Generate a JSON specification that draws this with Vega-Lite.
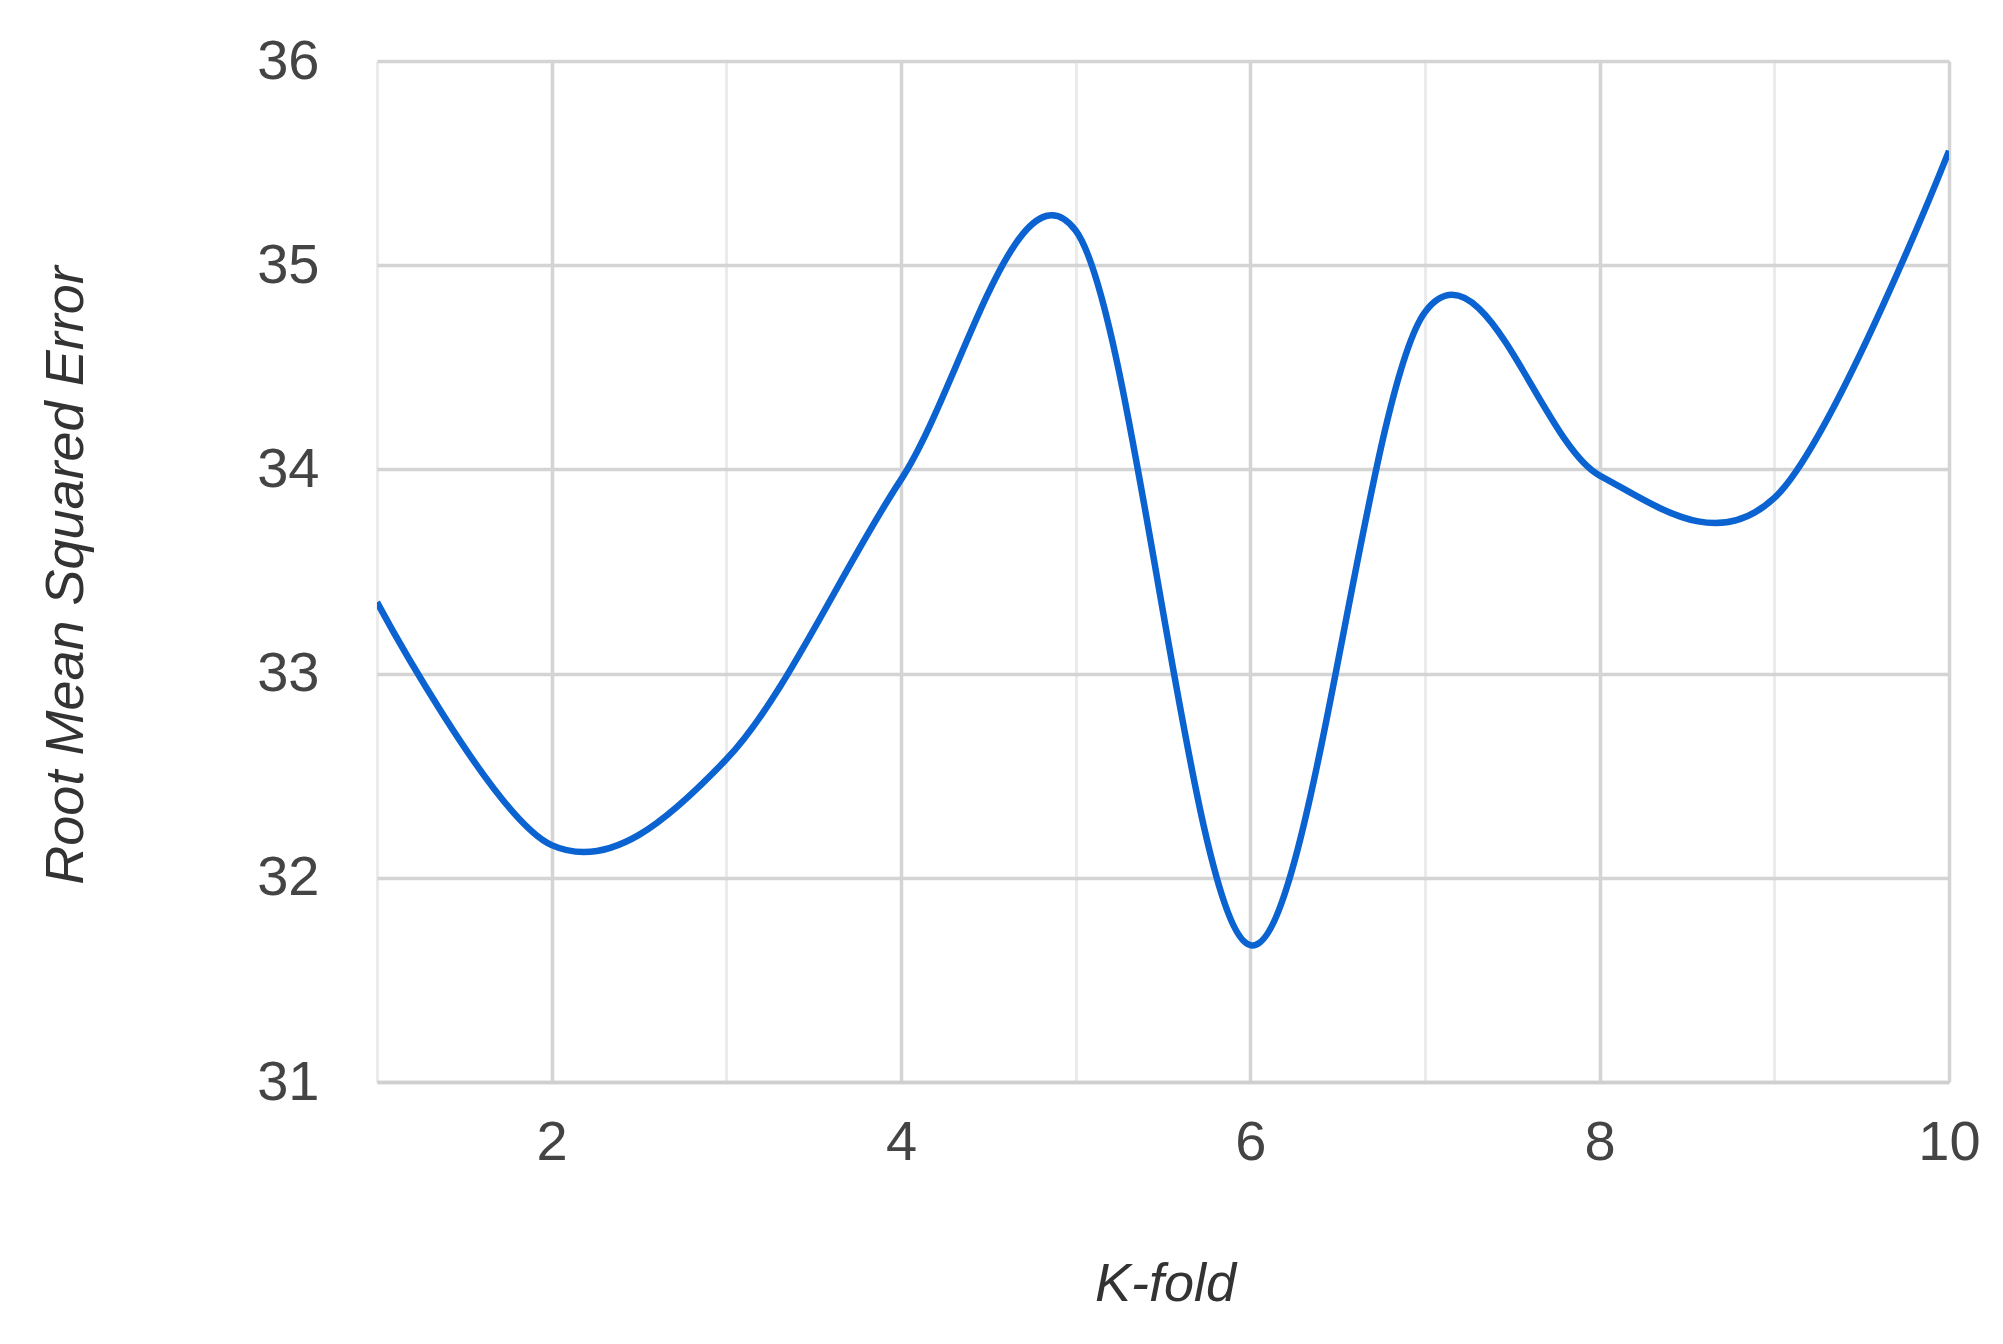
{
  "$schema": "https://vega.github.io/schema/vega-lite/v6.json",
  "autosize": "none",
  "width": 1572,
  "height": 1021,
  "padding": {"left": 377, "top": 61, "right": 54, "bottom": 262},
  "background": "white",
  "config": {"view": {"stroke": null}},
  "data": {
    "values": [
      {"k": 1, "rmse": 33.35},
      {"k": 2, "rmse": 32.16},
      {"k": 3, "rmse": 32.58},
      {"k": 4, "rmse": 33.95},
      {"k": 5, "rmse": 35.17},
      {"k": 6, "rmse": 31.67},
      {"k": 7, "rmse": 34.77},
      {"k": 8, "rmse": 33.97},
      {"k": 9, "rmse": 33.86},
      {"k": 10, "rmse": 35.56}
    ]
  },
  "mark": {"type": "line", "interpolate": "cardinal", "tension": 0, "color": "#0a63d0", "strokeWidth": 6.5, "clip": true},
  "encoding": {
    "x": {
      "field": "k",
      "type": "quantitative",
      "scale": {"domain": [1, 10], "nice": false, "zero": false},
      "axis": {
        "title": "K-fold",
        "values": [1, 2, 3, 4, 5, 6, 7, 8, 9, 10],
        "format": "d",
        "labelExpr": "datum.value % 2 === 0 ? datum.label : ''",
        "ticks": false,
        "domainColor": "#cfcfcf",
        "domainWidth": 3.5,
        "grid": true,
        "gridColor": {"condition": {"test": "datum.value % 2 === 0", "value": "#d4d4d4"}, "value": "#ebebeb"},
        "gridWidth": {"condition": {"test": "datum.value % 2 === 0", "value": 3.5}, "value": 3},
        "labelFont": "Liberation Sans",
        "labelFontSize": 56,
        "labelColor": "#444444",
        "labelBaseline": "alphabetic",
        "labelPadding": 77,
        "labelFlush": false,
        "labelOverlap": false,
        "titleFont": "Liberation Sans",
        "titleFontSize": 54,
        "titleFontStyle": "italic",
        "titleFontWeight": "normal",
        "titleColor": "#333333",
        "titleX": 788,
        "titleY": 218,
        "titleAlign": "center",
        "titleBaseline": "alphabetic"
      }
    },
    "y": {
      "field": "rmse",
      "type": "quantitative",
      "scale": {"domain": [31, 36], "nice": false, "zero": false},
      "axis": {
        "title": "Root Mean Squared Error",
        "values": [31, 31.5, 32, 32.5, 33, 33.5, 34, 34.5, 35, 35.5, 36],
        "format": "d",
        "labelExpr": "datum.value % 1 === 0 ? datum.label : ''",
        "ticks": false,
        "domain": false,
        "grid": true,
        "gridColor": {"condition": {"test": "datum.value % 1 === 0", "value": "#d4d4d4"}, "value": "#ebebeb"},
        "gridWidth": {"condition": {"test": "datum.value % 1 === 0", "value": 3.5}, "value": 3},
        "labelFont": "Liberation Sans",
        "labelFontSize": 56,
        "labelColor": "#444444",
        "labelAlign": "right",
        "labelBaseline": "middle",
        "labelPadding": 58,
        "labelFlush": false,
        "labelOverlap": false,
        "titleFont": "Liberation Sans",
        "titleFontSize": 54,
        "titleFontStyle": "italic",
        "titleFontWeight": "normal",
        "titleColor": "#333333",
        "titleAngle": 270,
        "titleX": -311,
        "titleY": 514,
        "titleAlign": "center",
        "titleBaseline": "middle"
      }
    }
  }
}
